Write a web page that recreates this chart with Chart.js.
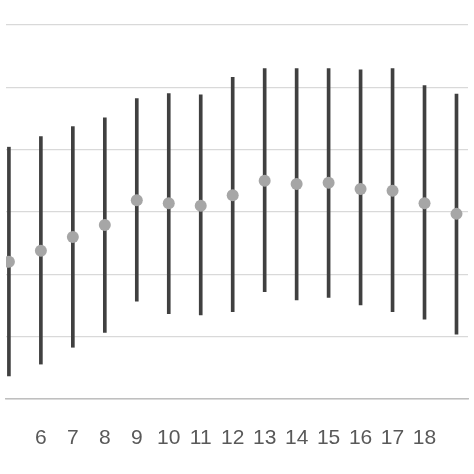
<!DOCTYPE html>
<html><head><meta charset="utf-8">
<script src="https://cdn.jsdelivr.net/npm/chart.js@4"></script>
<style>html,body{margin:0;padding:0;background:#fff}#w{width:474px;height:474px}</style>
</head><body><div id="w"><canvas id="c"></canvas></div>
<script>
const categories=[5,6,7,8,9,10,11,12,13,14,15,16,17,18,19];
const means=[2.20,2.38,2.60,2.79,3.19,3.14,3.10,3.27,3.50,3.45,3.47,3.37,3.34,3.14,2.97];
const highs=[4.04,4.21,4.37,4.51,4.82,4.90,4.88,5.16,5.30,5.30,5.30,5.28,5.30,5.03,4.89];
const lows=[0.37,0.56,0.83,1.07,1.57,1.37,1.35,1.40,1.72,1.59,1.63,1.51,1.40,1.28,1.04];
new Chart(document.getElementById('c'),{
 data:{datasets:[
  {type:'scatter',data:categories.map((c,i)=>({x:c,y:means[i]})),pointRadius:6,pointHoverRadius:6,backgroundColor:'#a6a6a6',borderWidth:0,order:0},
  {type:'bar',data:categories.map((c,i)=>({x:c,y:[lows[i],highs[i]]})),barThickness:3,backgroundColor:'#404040',order:1}
 ]},
 options:{responsive:true,maintainAspectRatio:false,animation:false,
  layout:{padding:{top:25,left:0,right:0,bottom:0}},
  plugins:{legend:{display:false},tooltip:{enabled:false}},
  scales:{
   x:{type:'linear',min:4.909,max:19.36,offset:false,
      afterFit:s=>{s.height=75;s.paddingLeft=0;s.paddingRight=0;},
      grid:{display:false,drawTicks:false},border:{color:'#bfbfbf',width:1.5},
      ticks:{stepSize:1,autoSkip:false,maxRotation:0,padding:27,color:'#595959',font:{family:'Liberation Sans',size:21},
        callback:v=>Number.isInteger(v)?String(v):''}},
   y:{min:0,max:6,display:true,
      afterFit:s=>{s.width=0;s.paddingTop=0;s.paddingBottom=0;},
      grid:{color:'#d9d9d9',lineWidth:1.2,drawTicks:false},border:{display:false},
      ticks:{display:false,stepSize:1}}
  }}
});
</script></body></html>
